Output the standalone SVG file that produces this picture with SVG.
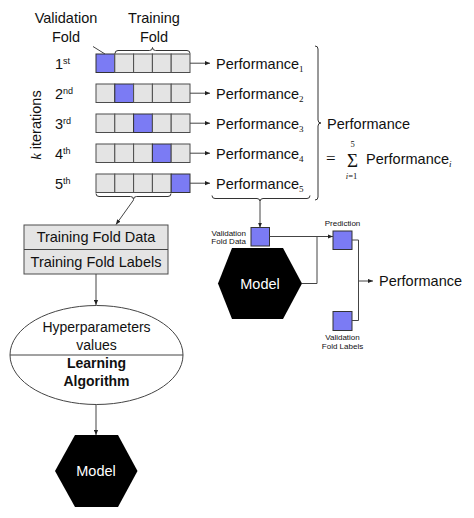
<svg xmlns="http://www.w3.org/2000/svg" width="474" height="518" viewBox="0 0 474 518">
<defs>
<style>
text{font-family:"Liberation Sans","DejaVu Sans",sans-serif;fill:#111}
.t{font-size:14.5px}
.sm{font-size:8px}
.sup{font-size:9px}
.m{font-family:"Liberation Serif","DejaVu Serif",serif}
.g{fill:#e4e4e4;stroke:#4d4d4d;stroke-width:1}
.b{fill:#7b7bf4;stroke:#333;stroke-width:1}
.ln{fill:none;stroke:#444;stroke-width:1}
.br{fill:none;stroke:#333;stroke-width:1}
.hex{fill:#000}
.wt{fill:#fff;font-size:14.5px}
</style>
<marker id="ar" viewBox="0 0 6 6" refX="6" refY="3" markerWidth="5" markerHeight="5" markerUnits="userSpaceOnUse" orient="auto">
<path d="M0,0.5 L6,3 L0,5.5 z" fill="#222"/>
</marker>
</defs>
<rect width="474" height="518" fill="#fff"/>

<g id="headers">
<text class="t" x="66" y="23" text-anchor="middle">Validation</text>
<text class="t" x="66" y="42" text-anchor="middle">Fold</text>
<text class="t" x="154" y="23" text-anchor="middle">Training</text>
<text class="t" x="154" y="42" text-anchor="middle">Fold</text>
<text class="t" transform="translate(40.5,125) rotate(-90)" text-anchor="middle"><tspan class="m" font-style="italic">k</tspan> iterations</text>
</g>

<g id="ordinals">
<text class="t" x="55" y="68.5">1<tspan class="sup" dy="-5">st</tspan></text>
<text class="t" x="55" y="98.5">2<tspan class="sup" dy="-5">nd</tspan></text>
<text class="t" x="55" y="128.5">3<tspan class="sup" dy="-5">rd</tspan></text>
<text class="t" x="55" y="158.5">4<tspan class="sup" dy="-5">th</tspan></text>
<text class="t" x="55" y="188.5">5<tspan class="sup" dy="-5">th</tspan></text>
</g>

<g id="row1">
<rect class="b" x="96" y="54" width="18.8" height="18.5"/>
<rect class="g" x="114.8" y="54" width="18.8" height="18.5"/>
<rect class="g" x="133.6" y="54" width="18.8" height="18.5"/>
<rect class="g" x="152.4" y="54" width="18.8" height="18.5"/>
<rect class="g" x="171.2" y="54" width="18.8" height="18.5"/>
</g>
<g id="row2">
<rect class="g" x="96" y="84" width="18.8" height="18.5"/>
<rect class="b" x="114.8" y="84" width="18.8" height="18.5"/>
<rect class="g" x="133.6" y="84" width="18.8" height="18.5"/>
<rect class="g" x="152.4" y="84" width="18.8" height="18.5"/>
<rect class="g" x="171.2" y="84" width="18.8" height="18.5"/>
</g>
<g id="row3">
<rect class="g" x="96" y="114" width="18.8" height="18.5"/>
<rect class="g" x="114.8" y="114" width="18.8" height="18.5"/>
<rect class="b" x="133.6" y="114" width="18.8" height="18.5"/>
<rect class="g" x="152.4" y="114" width="18.8" height="18.5"/>
<rect class="g" x="171.2" y="114" width="18.8" height="18.5"/>
</g>
<g id="row4">
<rect class="g" x="96" y="144" width="18.8" height="18.5"/>
<rect class="g" x="114.8" y="144" width="18.8" height="18.5"/>
<rect class="g" x="133.6" y="144" width="18.8" height="18.5"/>
<rect class="b" x="152.4" y="144" width="18.8" height="18.5"/>
<rect class="g" x="171.2" y="144" width="18.8" height="18.5"/>
</g>
<g id="row5">
<rect class="g" x="96" y="174" width="18.8" height="18.5"/>
<rect class="g" x="114.8" y="174" width="18.8" height="18.5"/>
<rect class="g" x="133.6" y="174" width="18.8" height="18.5"/>
<rect class="g" x="152.4" y="174" width="18.8" height="18.5"/>
<rect class="b" x="171.2" y="174" width="18.8" height="18.5"/>
</g>

<g id="perf-labels">
<text class="t" x="216" y="68.5">Performance<tspan class="sup m" dy="3">1</tspan></text>
<text class="t" x="216" y="98.5">Performance<tspan class="sup m" dy="3">2</tspan></text>
<text class="t" x="216" y="128.5">Performance<tspan class="sup m" dy="3">3</tspan></text>
<text class="t" x="216" y="158.5">Performance<tspan class="sup m" dy="3">4</tspan></text>
<text class="t" x="216" y="188.5">Performance<tspan class="sup m" dy="3">5</tspan></text>
</g>

<g id="braces">
<path class="br" d="M115,53.5 Q115,50.5 118,50.5 L149.5,50.5 Q152.5,50.5 152.5,47.5 Q152.5,50.5 155.5,50.5 L187,50.5 Q190,50.5 190,53.5"/>
<path class="br" d="M96,193.5 Q96,196.5 99,196.5 L130.5,196.5 Q133.5,196.5 133.5,199.5 Q133.5,196.5 136.5,196.5 L168,196.5 Q171,196.5 171,193.5"/>
<path class="br" d="M212,195.5 Q212,198.5 215,198.5 L257,198.5 Q260,198.5 260,201.5 Q260,198.5 263,198.5 L307,198.5 Q310,198.5 310,195.5"/>
<path class="br" d="M315,46 Q318,46 318,49 L318,120 Q318,123 321,123 Q318,123 318,126 L318,197 Q318,200 315,200"/>
</g>

<g id="performance-sum">
<text class="t" x="327" y="128.5">Performance</text>
<text class="m" x="326" y="164" font-size="17">=</text>
<text class="m" x="352.5" y="167" font-size="19" text-anchor="middle">Σ</text>
<text class="m" x="352.5" y="147" font-size="8.5" text-anchor="middle">5</text>
<text class="m" x="351.5" y="178.5" font-size="8.5" text-anchor="middle"><tspan font-style="italic">i</tspan>=1</text>
<text class="t" x="366" y="163.5">Performance<tspan class="sup m" font-style="italic" dy="3">i</tspan></text>
</g>

<g id="training-fold">
<rect class="g" x="24" y="225" width="144" height="49"/>
<line class="ln" x1="24" y1="249.5" x2="168" y2="249.5"/>
<text class="t" x="96" y="242" text-anchor="middle">Training Fold Data</text>
<text class="t" x="96" y="267" text-anchor="middle">Training Fold Labels</text>
</g>

<g id="learning-algorithm">
<ellipse cx="96.5" cy="355" rx="86.5" ry="49.5" fill="#fff" stroke="#444" stroke-width="1"/>
<line class="ln" x1="10" y1="355" x2="183" y2="355"/>
<text x="96.5" y="332" text-anchor="middle" font-size="14">Hyperparameters</text>
<text x="96.5" y="350" text-anchor="middle" font-size="14">values</text>
<text x="96.5" y="368" text-anchor="middle" font-size="14" font-weight="bold">Learning</text>
<text x="96.5" y="386" text-anchor="middle" font-size="14" font-weight="bold">Algorithm</text>
</g>

<g id="model-left">
<polygon class="hex" points="55,471 75,435 118,435 137.5,471 118,507 75,507"/>
<text class="wt" x="96" y="476" text-anchor="middle">Model</text>
</g>

<g id="model-right">
<polygon class="hex" points="218,283.5 232,248 283,248 302,283.5 283,319 232,319"/>
<text class="wt" x="260" y="289" text-anchor="middle">Model</text>
</g>

<g id="validation-data">
<rect class="b" x="251" y="227.5" width="18.5" height="18.5"/>
<text class="sm" x="246" y="236" text-anchor="end">Validation</text>
<text class="sm" x="246" y="244" text-anchor="end">Fold Data</text>
</g>

<g id="prediction">
<rect class="b" x="333" y="231" width="19" height="18.5"/>
<text class="sm" x="342.5" y="226" text-anchor="middle">Prediction</text>
</g>

<g id="validation-labels">
<rect class="b" x="333" y="311.5" width="19" height="19"/>
<text class="sm" x="342.5" y="340" text-anchor="middle">Validation</text>
<text class="sm" x="342.5" y="349" text-anchor="middle">Fold Labels</text>
</g>

<g id="performance-final">
<text x="379" y="286" font-size="14.5">Performance</text>
</g>

<g id="connectors">
<line class="ln" x1="93" y1="46.5" x2="105" y2="54"/>
<line class="ln" x1="190" y1="63.2" x2="210" y2="63.2" marker-end="url(#ar)"/>
<line class="ln" x1="190" y1="93.2" x2="210" y2="93.2" marker-end="url(#ar)"/>
<line class="ln" x1="190" y1="123.2" x2="210" y2="123.2" marker-end="url(#ar)"/>
<line class="ln" x1="190" y1="153.2" x2="210" y2="153.2" marker-end="url(#ar)"/>
<line class="ln" x1="190" y1="183.2" x2="210" y2="183.2" marker-end="url(#ar)"/>
<line class="ln" x1="133.5" y1="200" x2="116" y2="224.5" marker-end="url(#ar)"/>
<line class="ln" x1="96" y1="274" x2="96" y2="305" marker-end="url(#ar)"/>
<line class="ln" x1="96" y1="404.5" x2="96" y2="435" marker-end="url(#ar)"/>
<line class="ln" x1="260" y1="202" x2="260" y2="227.5" marker-end="url(#ar)"/>
<path class="ln" d="M269.5,236.5 H333" marker-end="url(#ar)"/>
<path class="ln" d="M302,283.5 H317 V236.5"/>
<path class="ln" d="M352,240 H358.5 V320.5 H352"/>
<line class="ln" x1="358.5" y1="281" x2="373" y2="281" marker-end="url(#ar)"/>
</g>
</svg>
